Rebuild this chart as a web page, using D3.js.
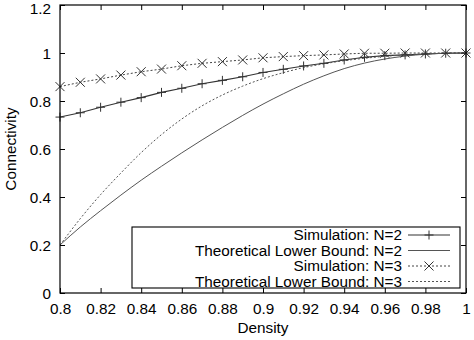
<!DOCTYPE html>
<html>
<head>
<meta charset="utf-8">
<script src="https://cdn.jsdelivr.net/npm/d3@7"></script>
<style>
html,body{margin:0;padding:0;background:#fff;}
svg{display:block;font-family:"Liberation Sans",Arial,Helvetica,sans-serif;}
</style>
</head>
<body>
<svg id="c" width="474" height="340"></svg>
<script>
const density = [0.80,0.81,0.82,0.83,0.84,0.85,0.86,0.87,0.88,0.89,0.90,0.91,0.92,0.93,0.94,0.95,0.96,0.97,0.98,0.99,1.00];
const simN2 = [0.733,0.751,0.774,0.795,0.814,0.836,0.853,0.872,0.886,0.901,0.919,0.932,0.946,0.957,0.971,0.982,0.989,0.992,0.996,0.999,1.000];
const theoN2 = [0.200,0.275,0.343,0.408,0.470,0.528,0.584,0.638,0.690,0.740,0.787,0.830,0.870,0.905,0.935,0.958,0.975,0.987,0.995,0.999,1.000];
const simN3 = [0.860,0.878,0.892,0.908,0.922,0.933,0.947,0.957,0.964,0.971,0.980,0.985,0.989,0.992,0.996,0.999,0.999,1.000,1.000,1.000,1.000];
const theoN3 = [0.200,0.310,0.410,0.500,0.585,0.660,0.725,0.780,0.825,0.862,0.893,0.918,0.939,0.955,0.968,0.978,0.986,0.992,0.996,0.999,1.000];
const xTicks = [0.8,0.82,0.84,0.86,0.88,0.9,0.92,0.94,0.96,0.98,1];
const yTicks = [0,0.2,0.4,0.6,0.8,1,1.2];
const seriesNames = ["Simulation: N=2","Theoretical Lower Bound: N=2","Simulation: N=3","Theoretical Lower Bound: N=3"];

const L=60, R=466, T=5, B=293;
const svg = d3.select("#c");
const x = d3.scaleLinear().domain([0.8,1]).range([L,R]);
const y = d3.scaleLinear().domain([0,1.2]).range([B,T]);
const fs = 15.3;

const tl = 5;
const gB = svg.append("g").attr("transform",`translate(0,${B})`)
  .call(d3.axisBottom(x).tickValues(xTicks).tickSizeInner(-tl).tickSizeOuter(0).tickPadding(10).tickFormat(d=>String(+d.toFixed(2))));
const gT = svg.append("g").attr("transform",`translate(0,${T})`)
  .call(d3.axisTop(x).tickValues(xTicks).tickSizeInner(-tl).tickSizeOuter(0).tickFormat(""));
const gL = svg.append("g").attr("transform",`translate(${L},0)`)
  .call(d3.axisLeft(y).tickValues(yTicks).tickSizeInner(-tl).tickSizeOuter(0).tickPadding(9).tickFormat(d=>String(+d.toFixed(1))));
const gR = svg.append("g").attr("transform",`translate(${R},0)`)
  .call(d3.axisRight(y).tickValues(yTicks).tickSizeInner(-tl).tickSizeOuter(0).tickFormat(""));
[gB,gT,gL,gR].forEach(g=>{
  g.select(".domain").remove();
  g.selectAll("line").attr("stroke","#000").attr("stroke-width",1);
  g.selectAll("text").attr("font-size",fs).attr("fill","#000").attr("font-family","'Liberation Sans',Arial,sans-serif");
});
gB.selectAll("text").attr("dy","0.71em");
gL.selectAll("text").attr("dy","0.35em");
gL.selectAll(".tick").filter(d=>d===1.2).select("text").attr("dy","0.55em");

svg.append("text").attr("x",(L+R)/2).attr("y",333).attr("text-anchor","middle").attr("font-size",fs).text("Density");
svg.append("text").attr("transform",`translate(16,${(T+B)/2}) rotate(-90)`).attr("text-anchor","middle").attr("font-size",fs).text("Connectivity");

svg.append("clipPath").attr("id","clip").append("rect").attr("x",L).attr("y",T).attr("width",R-L).attr("height",B-T);
const plot = svg.append("g").attr("clip-path","url(#clip)");

const styles = [
  {vals:simN2, stroke:"#333", dash:null, marker:"plus", w:1.1, curve:d3.curveLinear},
  {vals:theoN2, stroke:"#555", dash:null, marker:null, w:1, curve:d3.curveMonotoneX},
  {vals:simN3, stroke:"#444", dash:"2,2", marker:"cross", w:1, curve:d3.curveLinear},
  {vals:theoN3, stroke:"#555", dash:"2,2", marker:null, w:1, curve:d3.curveMonotoneX}
];
function drawMarker(g, type, cx, cy){
  const h = 4.5;
  if(type==="plus"){
    g.append("line").attr("x1",cx-h).attr("x2",cx+h).attr("y1",cy).attr("y2",cy);
    g.append("line").attr("x1",cx).attr("x2",cx).attr("y1",cy-h).attr("y2",cy+h);
  } else {
    g.append("line").attr("x1",cx-h).attr("x2",cx+h).attr("y1",cy-h).attr("y2",cy+h);
    g.append("line").attr("x1",cx-h).attr("x2",cx+h).attr("y1",cy+h).attr("y2",cy-h);
  }
}
const plotMarks = svg.append("g");
styles.forEach(s=>{
  const pts = density.map((d,i)=>[d,s.vals[i]]);
  const line = d3.line().x(d=>x(d[0])).y(d=>y(d[1])).curve(s.curve);
  plot.append("path").attr("d",line(pts)).attr("fill","none").attr("stroke",s.stroke)
    .attr("stroke-width",s.w).attr("stroke-dasharray",s.dash);
  if(s.marker){
    const mg = plotMarks.append("g").attr("stroke","#333").attr("stroke-width",1);
    pts.forEach(p=>drawMarker(mg,s.marker,x(p[0]),y(p[1])));
  }
});

svg.append("rect").attr("x",L).attr("y",T).attr("width",R-L).attr("height",B-T).attr("fill","none").attr("stroke","#000").attr("stroke-width",1.2);

const lg = svg.append("g");
lg.append("rect").attr("x",132).attr("y",227).attr("width",328).attr("height",61).attr("fill","#fff").attr("stroke","#000").attr("stroke-width",1.1);
const rowY = [235,250.5,266,281.5];
seriesNames.forEach((n,i)=>{
  lg.append("text").attr("x",402).attr("y",rowY[i]).attr("dy","0.35em").attr("text-anchor","end").attr("font-size",fs).text(n);
  const s = styles[i];
  lg.append("line").attr("x1",408).attr("x2",450).attr("y1",rowY[i]).attr("y2",rowY[i])
    .attr("stroke",s.stroke).attr("stroke-width",s.w).attr("stroke-dasharray",s.dash);
  if(s.marker){
    const mg = lg.append("g").attr("stroke","#333").attr("stroke-width",1);
    drawMarker(mg,s.marker,429,rowY[i]);
  }
});
</script>
</body>
</html>
